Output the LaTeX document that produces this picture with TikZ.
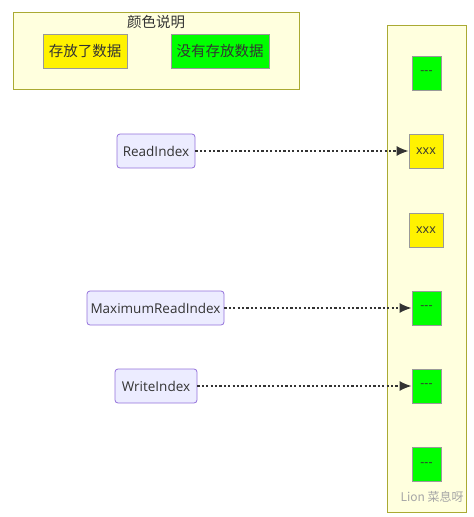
\documentclass[tikz,border=0pt]{standalone}
\usepackage{fontspec}
\setmainfont{Open Sans}
\newfontfamily\cjk{Noto Sans CJK SC}
\usetikzlibrary{arrows.meta}
\definecolor{nodefill}{HTML}{ECECFF}
\definecolor{nodeline}{HTML}{9370DB}
\definecolor{clusfill}{HTML}{FFFFDE}
\definecolor{clusline}{HTML}{AAAA33}
\definecolor{edgecol}{HTML}{333333}
\definecolor{cellline}{HTML}{999999}
\definecolor{txt}{HTML}{333333}
\tikzset{
  idx/.style={draw=nodeline, fill=nodefill, rounded corners=3pt, line width=0.8pt, inner sep=0pt, font=\fontsize{13.5}{15}\selectfont, text=txt},
  cluster/.style={draw=clusline, fill=clusfill, line width=0.8pt, inner sep=0pt},
  cellbox/.style={draw=cellline, line width=0.8pt, inner sep=0pt, font=\fontsize{12.5}{14}\selectfont, text=txt},
  legbox/.style={draw=cellline, line width=0.8pt, inner sep=0pt, font=\cjk\fontsize{14.5}{16}\selectfont, text=txt},
  ptr/.style={draw=edgecol, line width=1.5pt, dash pattern=on 2.2pt off 2.2pt, -{Latex[length=12pt,width=10pt]}}
}
\begin{document}
\begin{tikzpicture}[x=1pt,y=-1pt]
\useasboundingbox (0,0) rectangle (474,517);
% legend cluster
\node[cluster, minimum width=286pt, minimum height=77pt] (legend) at (156,50.5) {};
\node[font=\cjk\fontsize{14.5}{16}\selectfont, text=txt] (legtitle) at (156,22) {颜色说明};
\node[legbox, fill=yellow, minimum width=84pt, minimum height=34pt] (legy) at (85,51) {存放了数据};
\node[legbox, fill=green, minimum width=98pt, minimum height=34pt] (legg) at (220,51) {没有存放数据};
% array cluster
\node[cluster, minimum width=79pt, minimum height=487pt] (arr) at (426.5,268.5) {};
\node[cellbox, fill=green, minimum width=29pt, minimum height=34pt] (c1) at (426.5,73) {-{}-{}-};
\node[cellbox, fill=yellow, minimum width=34pt, minimum height=34pt] (c2) at (426,151) {xxx};
\node[cellbox, fill=yellow, minimum width=34pt, minimum height=34pt] (c3) at (426,230) {xxx};
\node[cellbox, fill=green, minimum width=29pt, minimum height=34pt] (c4) at (426.5,308) {-{}-{}-};
\node[cellbox, fill=green, minimum width=29pt, minimum height=34pt] (c5) at (426.5,386) {-{}-{}-};
\node[cellbox, fill=green, minimum width=29pt, minimum height=34pt] (c6) at (426.5,464.5) {-{}-{}-};
% index nodes
\node[idx, minimum width=78pt, minimum height=34pt] (ri) at (156,151) {ReadIndex};
\node[idx, minimum width=137pt, minimum height=34pt] (mri) at (155.5,308) {MaximumReadIndex};
\node[idx, minimum width=82pt, minimum height=34pt] (wi) at (156,386) {WriteIndex};
% pointers
\draw[ptr] (ri) -- (c2);
\draw[ptr] (mri) -- (c4);
\draw[ptr] (wi) -- (c5);
% watermark
\node[font=\cjk\fontsize{12}{13}\selectfont, text=black!35, anchor=west] (wm) at (397,497) {Lion 菜息呀};
\end{tikzpicture}
\end{document}
